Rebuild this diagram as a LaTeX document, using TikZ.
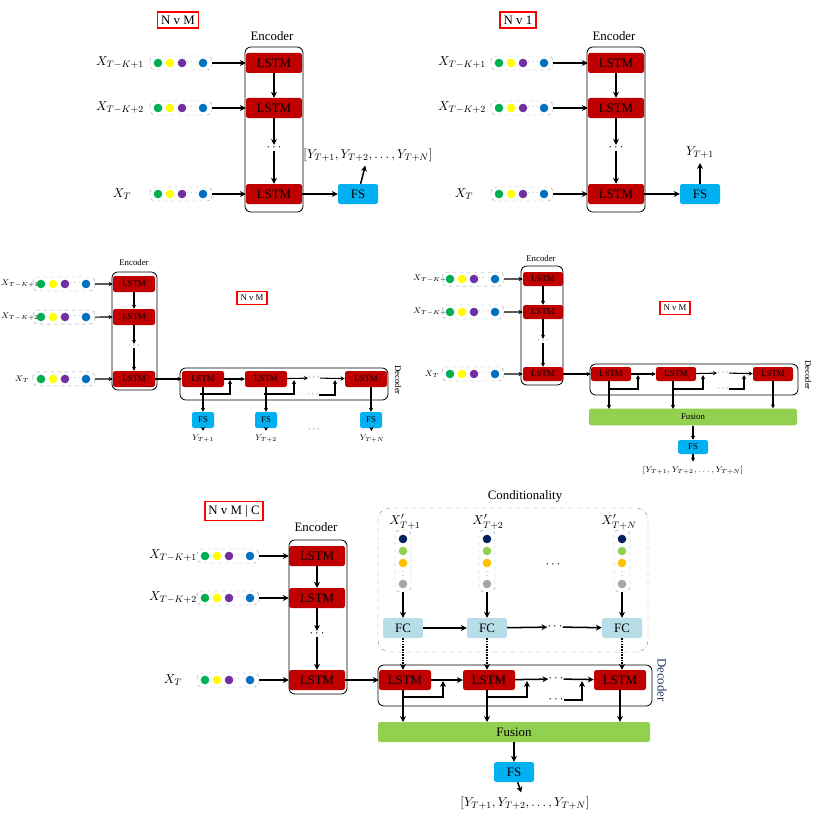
\documentclass[tikz,border=0pt]{standalone}
\usepackage{fontspec}
\setmainfont{Liberation Serif}
\usetikzlibrary{arrows.meta,calc}
\definecolor{lred}{HTML}{C00000}
\definecolor{fscol}{HTML}{00B0F0}
\definecolor{fusg}{HTML}{92D050}
\definecolor{fccol}{HTML}{B7DEE8}
\definecolor{dgreen}{HTML}{00B050}
\definecolor{dyel}{HTML}{FFFF00}
\definecolor{dpur}{HTML}{7030A0}
\definecolor{dblue}{HTML}{0070C0}
\definecolor{dnavy}{HTML}{002060}
\definecolor{dorange}{HTML}{FFC000}
\definecolor{dgray}{HTML}{A6A6A6}
\definecolor{pillc}{HTML}{8FA8B0}
\definecolor{decblue}{HTML}{1F3864}
\begin{document}
\begin{tikzpicture}[x=0.03cm,y=-0.03cm,
  big/.style={font=\fontsize{11}{13}\selectfont},
  small/.style={font=\fontsize{7.5}{9}\selectfont},
  lstm/.style={fill=lred,rounded corners=2pt,inner sep=0pt,minimum width=1.68cm,minimum height=0.6cm,big},
  lstms/.style={lstm,minimum width=1.26cm,minimum height=0.48cm,small},
  fs/.style={fill=fscol,rounded corners=2pt,inner sep=0pt,minimum width=1.2cm,minimum height=0.6cm,big},
  fss/.style={fs,minimum width=0.66cm,minimum height=0.48cm,small},
  fc/.style={fill=fccol,rounded corners=2pt,inner sep=0pt,minimum width=1.2cm,minimum height=0.6cm,big},
  tag/.style={draw=red,line width=1.3pt,inner sep=3pt,fill=white},
  arr/.style={-{Stealth[length=5pt,width=5pt]},line width=1.3pt},
  arrs/.style={-{Stealth[length=3.5pt,width=3.5pt]},line width=0.9pt},
  box/.style={draw,rounded corners=5pt,line width=0.7pt},
  hpill/.pic={
    \draw[pillc,dashed,rounded corners=4pt,thin] (-31,-7) rectangle (31,7);
    \fill[dgreen] (-23,0) circle (4.3);
    \fill[dyel] (-11,0) circle (4.3);
    \fill[dpur] (1,0) circle (4.3);
    \node[inner sep=0,font=\tiny] at (11,-1) {$\cdots$};
    \fill[dblue] (22,0) circle (4.3);
    \coordinate (-e) at (31,0);},
  vpill/.pic={
    \draw[pillc,dashed,rounded corners=4pt,thin] (-8,-31) rectangle (8,31);
    \fill[dnavy] (0,-22) circle (4.3);
    \fill[fusg] (0,-10) circle (4.3);
    \fill[dorange] (0,2) circle (4.3);
    \node[inner sep=0,font=\tiny] at (0,12) {$\vdots$};
    \fill[dgray] (0,23) circle (4.3);
    \coordinate (-s) at (0,31);}
]
\useasboundingbox (0,0) rectangle (814,817);

% ===== Panel 1 =====
\node[tag,big] (t1) at (178,20) {N v M};
\node[big] (enc1) at (272,36) {Encoder};
\draw[box] (245,47) rectangle (303,212);
\node[lstm] (a1) at (274,63) {LSTM};
\node[lstm] (a2) at (274,108) {LSTM};
\node[inner sep=0,big] (ad) at (274,148) {$\cdots$};
\node[lstm] (a3) at (274,194) {LSTM};
\node[big] (ax1) at (120,63) {$X_{T-K+1}$};
\node[big] (ax2) at (120,108) {$X_{T-K+2}$};
\node[big] (ax3) at (122,194) {$X_{T}$};
\pic (ap1) at (181,63) {hpill};
\pic (ap2) at (181,108) {hpill};
\pic (ap3) at (181,194) {hpill};
\draw[arr] (ap1-e) -- (a1);
\draw[arr] (ap2-e) -- (a2);
\draw[arr] (ap3-e) -- (a3);
\draw[arr] (a1) -- (a2);
\draw[arr] (a2) -- (ad);
\draw[arr] (ad) -- (a3);
\node[fs] (afs) at (358,194) {FS};
\draw[arr] (a3) -- (afs);
\node[big] (ay) at (368,155) {$[Y_{T+1},Y_{T+2},\ldots,Y_{T+N}]$};
\draw[arr] (afs) -- (ay);

% ===== Panel 2 =====
\node[tag,big] (t2) at (518,20) {N v 1};
\node[big] (enc2) at (614,36) {Encoder};
\draw[box] (587,47) rectangle (645,212);
\node[lstm] (b1) at (616,63) {LSTM};
\node[lstm] (b2) at (616,108) {LSTM};
\node[inner sep=0,big] (bd) at (616,148) {$\cdots$};
\node[lstm] (b3) at (616,194) {LSTM};
\node[big] (bx1) at (462,63) {$X_{T-K+1}$};
\node[big] (bx2) at (462,108) {$X_{T-K+2}$};
\node[big] (bx3) at (464,194) {$X_{T}$};
\pic (bp1) at (522,63) {hpill};
\pic (bp2) at (522,108) {hpill};
\pic (bp3) at (522,194) {hpill};
\draw[arr] (bp1-e) -- (b1);
\draw[arr] (bp2-e) -- (b2);
\draw[arr] (bp3-e) -- (b3);
\draw[arr] (b1) -- (b2);
\draw[arr] (b2) -- (bd);
\draw[arr] (bd) -- (b3);
\node[fs] (bfs) at (700,194) {FS};
\draw[arr] (b3) -- (bfs);
\node[big] (by) at (700,153) {$Y_{T+1}$};
\draw[arr] (bfs) -- (by);

% ===== Panel 3 =====
\node[tag,small] (t3) at (252,298) {N v M};
\node[small] (enc3) at (134,262) {Encoder};
\draw[box] (112,272) rectangle (157,390);
\node[lstms] (c1) at (134,284) {LSTM};
\node[lstms] (c2) at (134,317) {LSTM};
\node[inner sep=0,small] (cd) at (134,346) {$\cdots$};
\node[lstms] (c3) at (134,379) {LSTM};
\node[small] (cx1) at (20,284) {$X_{T-K+1}$};
\node[small] (cx2) at (20,317) {$X_{T-K+2}$};
\node[small] (cx3) at (22,379) {$X_{T}$};
\begin{scope}[scale=0.7]
\pic (cp1) at (91.4,405.7) {hpill};
\pic (cp2) at (91.4,452.9) {hpill};
\pic (cp3) at (91.4,541.4) {hpill};
\end{scope}
\draw[arrs] (cp1-e) -- (c1);
\draw[arrs] (cp2-e) -- (c2);
\draw[arrs] (cp3-e) -- (c3);
\draw[arrs] (c1) -- (c2);
\draw[arrs] (c2) -- (cd);
\draw[arrs] (cd) -- (c3);
\draw[box] (180,368) rectangle (388,400);
\node[small,rotate=-90] (cdec) at (398,380) {Decoder};
\node[lstms] (e1) at (203,379) {LSTM};
\node[lstms] (e2) at (266,379) {LSTM};
\node[inner sep=0,small] (edd) at (314,378) {$\cdots$};
\node[inner sep=0,small] (edd2) at (313,395) {$\cdots$};
\node[lstms] (e3) at (366,379) {LSTM};
\draw[arrs] (c3) -- (e1);
\draw[arrs] (e1) -- (e2);
\draw[arrs] (e2) -- (edd);
\draw[arrs] (edd) -- (e3);
\draw[arrs] (200,394) -| (230,380);
\draw[arrs] (264,394) -| (294,380);
\draw[arrs] (edd2) -| (335,380);
\node[fss] (f1) at (203,420) {FS};
\node[fss] (f2) at (266,420) {FS};
\node[fss] (f3) at (371,420) {FS};
\node[inner sep=0,small] (fdd) at (314,430) {$\cdots$};
\draw[arrs] (e1.south -| f1) -- (f1);
\draw[arrs] (e2.south -| f2) -- (f2);
\draw[arrs] (e3.south -| f3) -- (f3);
\node[small] (y1) at (203,439) {$Y_{T+1}$};
\node[small] (y2) at (266,439) {$Y_{T+2}$};
\node[small] (y3) at (372,439) {$Y_{T+N}$};
\draw[arrs] (f1) -- (y1);
\draw[arrs] (f2) -- (y2);
\draw[arrs] (f3) -- (y3);

% ===== Panel 4 =====
\node[tag,small] (t4) at (675,308) {N v M};
\node[small] (enc4) at (541,258) {Encoder};
\draw[box] (521,266) rectangle (563,385);
\node[lstms,minimum width=1.2cm,minimum height=0.42cm] (g1) at (543,279) {LSTM};
\node[lstms,minimum width=1.2cm,minimum height=0.42cm] (g2) at (543,312) {LSTM};
\node[inner sep=0,small] (gd) at (543,341) {$\cdots$};
\node[lstms,minimum width=1.2cm,minimum height=0.42cm] (g3) at (543,374) {LSTM};
\node[small] (gx1) at (432,279) {$X_{T-K+1}$};
\node[small] (gx2) at (432,312) {$X_{T-K+2}$};
\node[small] (gx3) at (432,374) {$X_{T}$};
\begin{scope}[scale=0.7]
\pic (gp1) at (675.7,398.6) {hpill};
\pic (gp2) at (675.7,445.7) {hpill};
\pic (gp3) at (675.7,534.3) {hpill};
\end{scope}
\draw[arrs] (gp1-e) -- (g1);
\draw[arrs] (gp2-e) -- (g2);
\draw[arrs] (gp3-e) -- (g3);
\draw[arrs] (g1) -- (g2);
\draw[arrs] (g2) -- (gd);
\draw[arrs] (gd) -- (g3);
\draw[box] (590,364) rectangle (798,395);
\node[small,rotate=-90] (gdec) at (808,375) {Decoder};
\node[lstms,minimum width=1.2cm,minimum height=0.42cm] (h1) at (611,374) {LSTM};
\node[lstms,minimum width=1.2cm,minimum height=0.42cm] (h2) at (676,374) {LSTM};
\node[inner sep=0,small] (hdd) at (723,373) {$\cdots$};
\node[inner sep=0,small] (hdd2) at (723,389) {$\cdots$};
\node[lstms,minimum width=1.2cm,minimum height=0.42cm] (h3) at (773,374) {LSTM};
\draw[arrs] (g3) -- (h1);
\draw[arrs] (h1) -- (h2);
\draw[arrs] (h2) -- (hdd);
\draw[arrs] (hdd) -- (h3);
\draw[arrs] (609,389) -| (638,375);
\draw[arrs] (674,389) -| (703,375);
\draw[arrs] (hdd2) -| (744,375);
\node[fill=fusg,rounded corners=2pt,inner sep=0,minimum width=6.24cm,minimum height=0.5cm,small] (fu4) at (693,417) {Fusion};
\draw[arrs] (h1.south -| 609,0) -- (609,409);
\draw[arrs] (h2.south -| 673,0) -- (673,409);
\draw[arrs] (h3) -- (h3 |- fu4.north);
\node[fss,minimum width=0.9cm,minimum height=0.42cm] (fs4) at (693,447) {FS};
\draw[arrs] (fu4) -- (fs4);
\node[small] (y4) at (693,470) {$[Y_{T+1},Y_{T+2},\ldots,Y_{T+N}]$};
\draw[arrs] (fs4) -- (y4);

% ===== Panel 5 =====
\node[tag,big] (t5) at (234,511) {N v M | C};
\node[big] (enc5) at (316,527) {Encoder};
\draw[box] (289,540) rectangle (347,694);
\node[lstm] (k1) at (317,556) {LSTM};
\node[lstm] (k2) at (317,598) {LSTM};
\node[inner sep=0,big] (kd) at (317,634) {$\cdots$};
\node[lstm] (k3) at (317,680) {LSTM};
\node[big] (kx1) at (173,556) {$X_{T-K+1}$};
\node[big] (kx2) at (173,598) {$X_{T-K+2}$};
\node[big] (kx3) at (173,680) {$X_{T}$};
\pic (kp1) at (228,556) {hpill};
\pic (kp2) at (228,598) {hpill};
\pic (kp3) at (228,680) {hpill};
\draw[arr] (kp1-e) -- (k1);
\draw[arr] (kp2-e) -- (k2);
\draw[arr] (kp3-e) -- (k3);
\draw[arr] (k1) -- (k2);
\draw[arr] (k2) -- (kd);
\draw[arr] (kd) -- (k3);
\node[big] (cond) at (525,496) {Conditionality};
\draw[gray,dash dot,rounded corners=10pt] (378,508) rectangle (648,652);
\node[big] (xp1) at (405,522) {$X'_{T+1}$};
\node[big] (xp2) at (488,522) {$X'_{T+2}$};
\node[big] (xp3) at (619,522) {$X'_{T+N}$};
\pic (vp1) at (403,561) {vpill};
\pic (vp2) at (487,561) {vpill};
\pic (vp3) at (622,561) {vpill};
\node[inner sep=0,big] (vdd) at (553,565) {$\cdots$};
\node[fc] (fc1) at (403,628) {FC};
\node[fc] (fc2) at (487,628) {FC};
\node[inner sep=0,big] (fcd) at (555,627) {$\cdots$};
\node[fc] (fc3) at (622,628) {FC};
\draw[arr] (vp1-s) -- (fc1);
\draw[arr] (vp2-s) -- (fc2);
\draw[arr] (vp3-s) -- (fc3);
\draw[arr] (fc1) -- (fc2);
\draw[arr] (fc2) -- (fcd);
\draw[arr] (fcd) -- (fc3);
\draw[box] (378,665) rectangle (652,706);
\node[big,rotate=-90,text=decblue] (kdec) at (662,680) {Decoder};
\node[lstm,minimum width=1.56cm] (m1) at (405,680) {LSTM};
\node[lstm,minimum width=1.56cm] (m2) at (489,680) {LSTM};
\node[inner sep=0,big] (mdd) at (556,679) {$\cdots$};
\node[inner sep=0,big] (mdd2) at (556,700) {$\cdots$};
\node[lstm,minimum width=1.56cm] (m3) at (620,680) {LSTM};
\draw[arr,densely dotted] (fc1) -- (fc1 |- m1.north);
\draw[arr,densely dotted] (fc2) -- (fc2 |- m2.north);
\draw[arr,densely dotted] (fc3) -- (fc3 |- m3.north);
\draw[arr] (k3) -- (m1);
\draw[arr] (m1) -- (m2);
\draw[arr] (m2) -- (mdd);
\draw[arr] (mdd) -- (m3);
\draw[arr] (403,697) -| (443,681);
\draw[arr] (487,697) -| (527,681);
\draw[arr] (mdd2) -| (582,681);
\node[fill=fusg,rounded corners=2pt,inner sep=0,minimum width=8.16cm,minimum height=0.6cm,big] (fu5) at (514,732) {Fusion};
\draw[arr] (403,690) -- (403,722);
\draw[arr] (487,690) -- (487,722);
\draw[arr] (m3) -- (m3 |- fu5.north);
\node[fs] (fs5) at (514,772) {FS};
\draw[arr] (fu5) -- (fs5);
\node[big] (y5) at (525,803) {$[Y_{T+1},Y_{T+2},\ldots,Y_{T+N}]$};
\draw[arr] (fs5) -- (y5);
\end{tikzpicture}
\end{document}
